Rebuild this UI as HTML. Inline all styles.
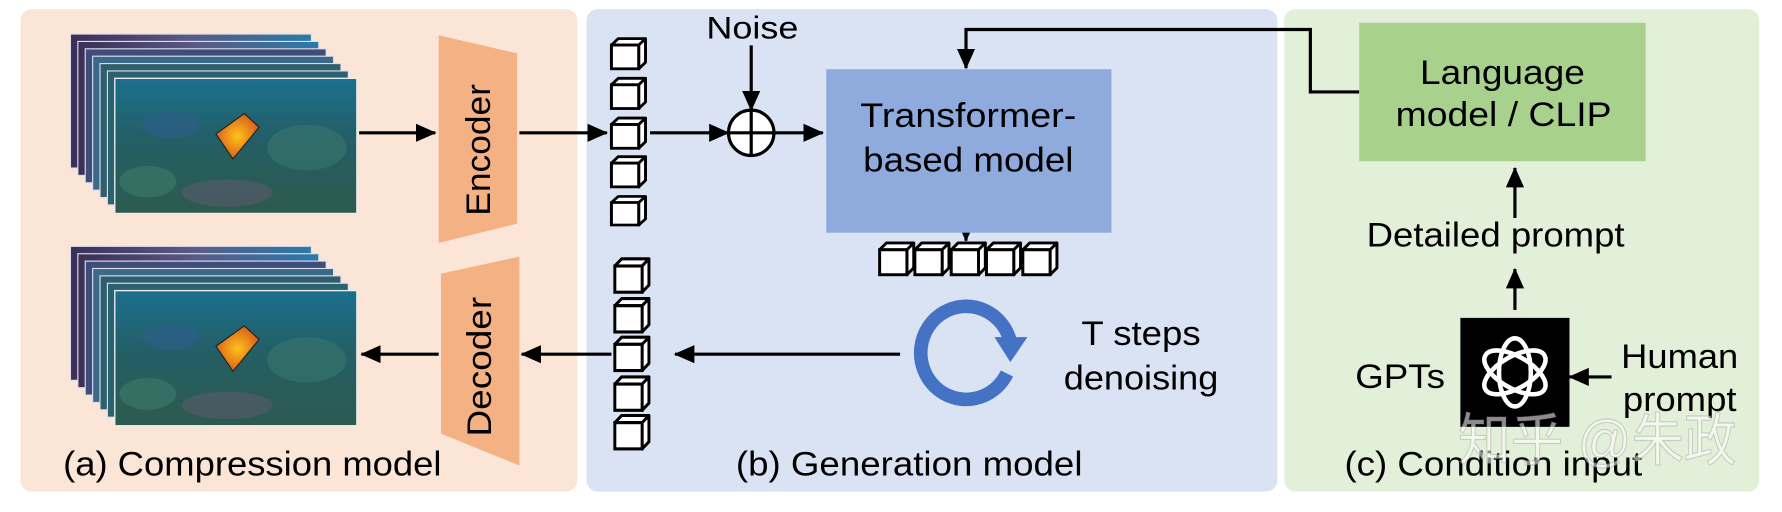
<!DOCTYPE html>
<html><head><meta charset="utf-8"><style>
html,body{margin:0;padding:0;background:#fff;}
svg{display:block;}
text{font-family:"Liberation Sans",sans-serif;fill:#000;}
</style></head><body>
<svg width="1782" height="512" viewBox="0 0 1568 451" preserveAspectRatio="none" xmlns="http://www.w3.org/2000/svg">
<defs>
<linearGradient id="sea" x1="0" y1="0" x2="0" y2="1">
<stop offset="0" stop-color="#1b6f8e"/><stop offset="0.45" stop-color="#235f66"/><stop offset="1" stop-color="#2e5a4e"/>
</linearGradient>
<linearGradient id="back" x1="0" y1="0" x2="1" y2="0">
<stop offset="0" stop-color="#3b2f55"/><stop offset="0.5" stop-color="#5a5a86"/><stop offset="1" stop-color="#2a7aa8"/>
</linearGradient>
<radialGradient id="bf" cx="0.5" cy="0.5" r="0.5">
<stop offset="0" stop-color="#ffc21a"/><stop offset="1" stop-color="#d9621a"/>
</radialGradient>
<marker id="ah" markerWidth="18" markerHeight="16" refX="17" refY="8" orient="auto" markerUnits="userSpaceOnUse" viewBox="0 0 18 16">
<path d="M0,0 L18,8 L0,16 z" fill="#000"/></marker>
<g id="cube"><path d="M0,6 L6,0 L30,0 L24,6 Z M24,6 L30,0 L30,22 L24,28 Z" fill="#fff" stroke="#000" stroke-width="2.6" stroke-linejoin="round"/><rect x="0" y="6" width="24" height="22" fill="#fff" stroke="#000" stroke-width="2.6"/></g>
<g id="stack">
<rect x="62" y="30" width="212" height="118" fill="url(#back)" stroke="#dde" stroke-width="1"/>
<rect x="68.5" y="36.5" width="212" height="118" fill="url(#back)" stroke="#dde" stroke-width="1"/>
<rect x="75" y="43" width="212" height="118" fill="#3f4d7a" stroke="#dde" stroke-width="1"/>
<rect x="81.5" y="49.5" width="212" height="118" fill="#3a6a8a" stroke="#dde" stroke-width="1"/>
<rect x="88" y="56" width="212" height="118" fill="#2f5f6a" stroke="#dde" stroke-width="1"/>
<rect x="94.5" y="62.5" width="212" height="118" fill="#2c6270" stroke="#dde" stroke-width="1"/>
<rect x="101" y="69" width="213" height="119" fill="url(#sea)" stroke="#e8eef0" stroke-width="1.2"/>
<ellipse cx="150" cy="110" rx="25" ry="12" fill="#2e5e8a" opacity="0.6"/>
<ellipse cx="270" cy="130" rx="35" ry="20" fill="#3b7a70" opacity="0.5"/>
<ellipse cx="200" cy="170" rx="40" ry="12" fill="#5a5a6a" opacity="0.6"/>
<ellipse cx="130" cy="160" rx="25" ry="14" fill="#3f7a6a" opacity="0.6"/>
<path d="M190,118 L215,100 L228,112 L205,140 Z" fill="url(#bf)" stroke="#222" stroke-width="1"/>
</g>
</defs>
<rect x="18" y="8" width="490" height="425" rx="10" fill="#fbe5d6"/>
<rect x="516" y="8" width="608" height="425" rx="10" fill="#dae3f3"/>
<rect x="1130" y="8" width="418" height="425" rx="10" fill="#e2f0d9"/>

<use href="#stack"/>
<use href="#stack" transform="translate(0,187)"/>

<polygon points="386,31 455,47 455,197 386,214" fill="#f4b183"/>
<text transform="translate(431,132) rotate(-90)" font-size="30" text-anchor="middle" textLength="116" lengthAdjust="spacingAndGlyphs">Encoder</text>
<polygon points="388,241 457,226 457,410 388,382" fill="#f4b183"/>
<text transform="translate(432,323) rotate(-90)" font-size="30" text-anchor="middle" textLength="123" lengthAdjust="spacingAndGlyphs">Decoder</text>

<g stroke="#000" stroke-width="2.8" fill="none">
<line x1="316" y1="117" x2="383" y2="117" marker-end="url(#ah)"/>
<line x1="457" y1="117" x2="534" y2="117" marker-end="url(#ah)"/>
<line x1="572" y1="117" x2="641" y2="117" marker-end="url(#ah)"/>
<line x1="682" y1="117" x2="724" y2="117" marker-end="url(#ah)"/>
<line x1="661" y1="40" x2="661" y2="97" marker-end="url(#ah)"/>
<line x1="538" y1="312" x2="459" y2="312" marker-end="url(#ah)"/>
<line x1="386" y1="312" x2="318" y2="312" marker-end="url(#ah)"/>
<line x1="792" y1="312" x2="594" y2="312" marker-end="url(#ah)"/>
<line x1="850" y1="178" x2="850" y2="212" marker-end="url(#ah)"/>
<polyline points="1196,81 1153,81 1153,26 850,26 850,60" marker-end="url(#ah)"/>
<line x1="1333" y1="192" x2="1333" y2="148" marker-end="url(#ah)"/>
<line x1="1333" y1="273" x2="1333" y2="237" marker-end="url(#ah)"/>
<line x1="1418" y1="332" x2="1381" y2="332" marker-end="url(#ah)"/>
</g>

<text x="662" y="34" font-size="28" text-anchor="middle" textLength="81" lengthAdjust="spacingAndGlyphs">Noise</text>
<circle cx="661" cy="117" r="20" fill="#fff" stroke="#000" stroke-width="2.8"/>
<line x1="641" y1="117" x2="681" y2="117" stroke="#000" stroke-width="2.8"/>
<line x1="661" y1="97" x2="661" y2="137" stroke="#000" stroke-width="2.8"/>

<use href="#cube" transform="translate(538,34) scale(1,0.95)"/>
<use href="#cube" transform="translate(538,69) scale(1,0.95)"/>
<use href="#cube" transform="translate(538,104) scale(1,0.95)"/>
<use href="#cube" transform="translate(538,138) scale(1,0.95)"/>
<use href="#cube" transform="translate(538,173) scale(1,0.9)"/>
<use href="#cube" transform="translate(541,228) scale(1,1.05)"/>
<use href="#cube" transform="translate(541,263) scale(1,1.05)"/>
<use href="#cube" transform="translate(541,297) scale(1,1.05)"/>
<use href="#cube" transform="translate(541,332) scale(1,1.05)"/>
<use href="#cube" transform="translate(541,366) scale(1,1.05)"/>
<use href="#cube" transform="translate(774,214)"/>
<use href="#cube" transform="translate(805,214)"/>
<use href="#cube" transform="translate(837,214)"/>
<use href="#cube" transform="translate(868,214)"/>
<use href="#cube" transform="translate(900,214)"/>

<rect x="727" y="61" width="251" height="144" fill="#8faadc"/>
<text x="852" y="112" font-size="30" text-anchor="middle" textLength="190" lengthAdjust="spacingAndGlyphs">Transformer-</text>
<text x="852" y="151" font-size="30" text-anchor="middle" textLength="185" lengthAdjust="spacingAndGlyphs">based model</text>

<path d="M886,329 A40,41 0 1 1 889,301" fill="none" stroke="#4472c4" stroke-width="12"/>
<polygon points="875,297 904,297 889,319" fill="#4472c4"/>
<text x="1004" y="304" font-size="30" text-anchor="middle" textLength="105" lengthAdjust="spacingAndGlyphs">T steps</text>
<text x="1004" y="343" font-size="30" text-anchor="middle" textLength="136" lengthAdjust="spacingAndGlyphs">denoising</text>

<text x="222" y="419" font-size="30" text-anchor="middle" textLength="333" lengthAdjust="spacingAndGlyphs">(a) Compression model</text>
<text x="800" y="419" font-size="30" text-anchor="middle" textLength="305" lengthAdjust="spacingAndGlyphs">(b) Generation model</text>
<text x="1314" y="419" font-size="30" text-anchor="middle" textLength="262" lengthAdjust="spacingAndGlyphs">(c) Condition input</text>

<rect x="1196" y="20" width="252" height="122" fill="#a9d18e"/>
<text x="1322" y="74" font-size="30" text-anchor="middle" textLength="145" lengthAdjust="spacingAndGlyphs">Language</text>
<text x="1323" y="111" font-size="30" text-anchor="middle" textLength="190" lengthAdjust="spacingAndGlyphs">model / CLIP</text>
<text x="1316" y="217" font-size="30" text-anchor="middle" textLength="227" lengthAdjust="spacingAndGlyphs">Detailed prompt</text>

<rect x="1285" y="280" width="96" height="96" fill="#000"/>
<g transform="translate(1333,328)" fill="none" stroke="#fff" stroke-width="4">
<ellipse rx="14" ry="30"/>
<ellipse rx="14" ry="30" transform="rotate(60)"/>
<ellipse rx="14" ry="30" transform="rotate(120)"/>
</g>
<text x="1232" y="342" font-size="30" text-anchor="middle" textLength="79" lengthAdjust="spacingAndGlyphs">GPTs</text>
<text x="1478" y="324" font-size="30" text-anchor="middle" textLength="103" lengthAdjust="spacingAndGlyphs">Human</text>
<text x="1478" y="362" font-size="30" text-anchor="middle" textLength="100" lengthAdjust="spacingAndGlyphs">prompt</text>

<text x="1283" y="405" font-size="50" fill-opacity="0.55" stroke="#888" stroke-opacity="0.35" stroke-width="1" style="font-family:'Liberation Sans','Noto Sans CJK SC',sans-serif;fill:#fff" textLength="245" lengthAdjust="spacingAndGlyphs">知乎 @朱政</text>
</svg>
</body></html>
